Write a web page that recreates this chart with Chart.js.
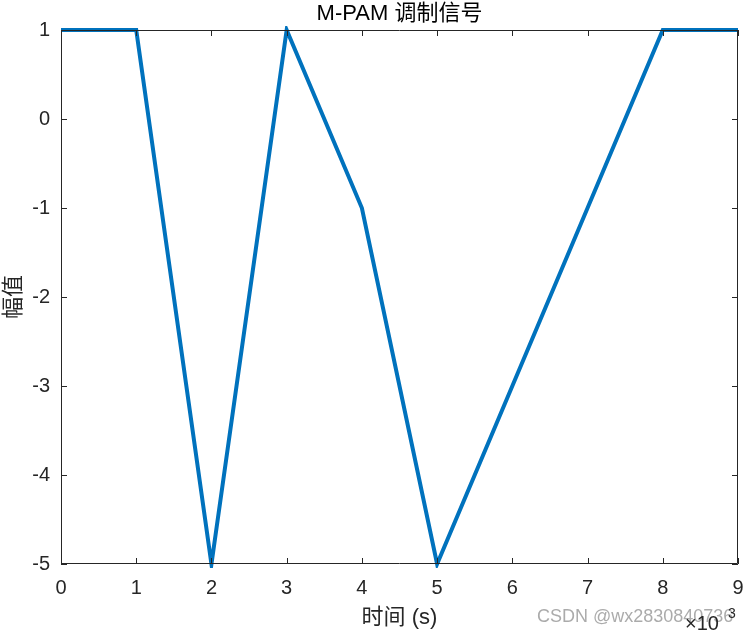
<!DOCTYPE html>
<html>
<head>
<meta charset="utf-8">
<script src="https://cdn.jsdelivr.net/npm/chart.js@4/dist/chart.umd.min.js"></script>
<style>
  html, body { margin: 0; padding: 0; background: #fff; }
  #wrap { width: 746px; height: 632px; }
</style>
</head>
<body>
<div id="wrap"><canvas id="pam-chart" width="746" height="632"></canvas></div>
<script>
// sample times (in units of the x axis, shown as x 10^3)
const sampleTimes = [0, 1000, 2000, 3000, 4000, 5000, 6000, 7000, 8000, 9000];
const amplitudes = [1, 1, -5, 1, -1, -5, -3, -1, 1, 1];
const xTickValues = [0, 1000, 2000, 3000, 4000, 5000, 6000, 7000, 8000, 9000];
const yTickValues = [-5, -4, -3, -2, -1, 0, 1];

const FONT = "'Liberation Sans', Arial, 'Noto Sans CJK SC', sans-serif";
const INK = "#262626";

// MATLAB style box with inward ticks, title, exponent and watermark
const matlabBox = {
    id: "matlabBox",
    afterDraw(chart) {
        const ctx = chart.ctx;
        const area = chart.chartArea;
        const xs = chart.scales.x;
        const ys = chart.scales.y;
        const tick = 6;
        ctx.save();
        ctx.strokeStyle = INK;
        ctx.lineWidth = 1;
        ctx.beginPath();
        ctx.rect(area.left + 0.5, area.top + 0.5, area.right - area.left - 1, area.bottom - area.top - 1);
        xTickValues.forEach(v => {
            const px = Math.round(xs.getPixelForValue(v)) + 0.5;
            ctx.moveTo(px, area.bottom);
            ctx.lineTo(px, area.bottom - tick);
            ctx.moveTo(px, area.top);
            ctx.lineTo(px, area.top + tick);
        });
        yTickValues.forEach(v => {
            const py = Math.round(ys.getPixelForValue(v)) + 0.5;
            ctx.moveTo(area.left, py);
            ctx.lineTo(area.left + tick, py);
            ctx.moveTo(area.right, py);
            ctx.lineTo(area.right - tick, py);
        });
        ctx.stroke();

        // title
        ctx.fillStyle = "#000";
        ctx.font = "22px " + FONT;
        ctx.textAlign = "center";
        ctx.textBaseline = "middle";
        ctx.fillText("M-PAM 调制信号", (area.left + area.right) / 2, 14);

        // watermark
        ctx.fillStyle = "rgba(150,150,150,0.8)";
        ctx.font = "18px " + FONT;
        ctx.textAlign = "left";
        ctx.textBaseline = "alphabetic";
        ctx.fillText("CSDN @wx2830840736", 537, 622);

        // exponent
        ctx.fillStyle = INK;
        ctx.font = "20px " + FONT;
        ctx.fillText("\u00d710", 685, 630);
        ctx.font = "14px " + FONT;
        ctx.fillText("3", 728, 618);
        ctx.restore();
    }
};

const chart = new Chart(document.getElementById("pam-chart").getContext("2d"), {
    type: "line",
    data: {
        datasets: [{
            data: sampleTimes.map((t, i) => ({ x: t, y: amplitudes[i] })),
            borderColor: "#0072BD",
            borderWidth: 4,
            pointRadius: 0,
            tension: 0,
            fill: false,
            clip: 4
        }]
    },
    options: {
        responsive: false,
        animation: false,
        layout: { padding: { left: 0, right: 8, top: 30, bottom: 0 } },
        plugins: { legend: { display: false }, tooltip: { enabled: false } },
        scales: {
            x: {
                type: "linear",
                min: 0,
                max: 9000,
                afterBuildTicks: s => { s.ticks = xTickValues.map(v => ({ value: v })); },
                afterFit: s => { s.height = 68; s.paddingLeft = 0; s.paddingRight = 0; },
                grid: { display: false, drawTicks: false },
                border: { display: false },
                ticks: {
                    color: INK,
                    font: { family: FONT, size: 20 },
                    padding: 12,
                    maxRotation: 0,
                    autoSkip: false,
                    callback: v => String(v / 1000)
                },
                title: {
                    display: true,
                    text: "时间 (s)",
                    color: INK,
                    font: { family: FONT, size: 22 },
                    padding: { top: 0, bottom: 1 }
                }
            },
            y: {
                min: -5,
                max: 1,
                afterBuildTicks: s => { s.ticks = yTickValues.map(v => ({ value: v })); },
                afterFit: s => { s.width = 61; s.paddingTop = 0; s.paddingBottom = 0; },
                grid: { display: false, drawTicks: false },
                border: { display: false },
                ticks: {
                    color: INK,
                    font: { family: FONT, size: 20 },
                    padding: 11,
                    autoSkip: false
                },
                title: {
                    display: true,
                    text: "幅值",
                    color: INK,
                    font: { family: FONT, size: 22 },
                    padding: { top: 1, bottom: 0 }
                }
            }
        }
    },
    plugins: [matlabBox]
});
</script>
</body>
</html>
